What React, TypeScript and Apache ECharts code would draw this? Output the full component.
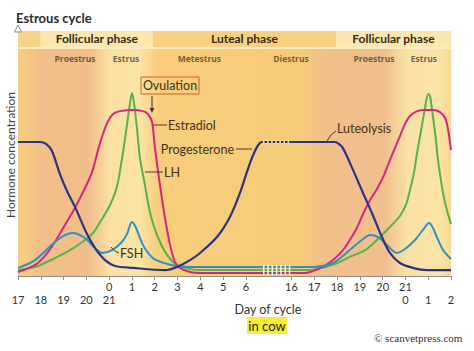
import React, { useEffect, useRef } from "react";
import * as echarts from "echarts";

// x = position along the drawn day axis (days 7..15 compressed into a 2-unit break)
const tickPositions = [0, 1, 2, 3, 4, 5, 6, 7, 8, 9, 10, 12, 13, 14, 15, 16, 17, 18, 19];
const tickTopRow = ["", "", "", "", "0", "1", "2", "3", "4", "5", "6", "16", "17", "18", "19", "20", "21", "", ""];
const tickBottomRow = ["17", "18", "19", "20", "21", "", "", "", "", "", "", "", "", "", "", "", "0", "1", "2"];

const phaseNames = ["Follicular phase", "Luteal phase", "Follicular phase"];
const phaseStarts = [1, 5.92, 13.95];
const phaseEnds = [5.92, 13.95, 19];

const stageNames = ["Proestrus", "Estrus", "Metestrus", "Diestrus", "Proestrus", "Estrus"];
const stageCenters = [2.5, 4.74, 7.96, 11.98, 15.62, 17.81];

const progesterone = [
  [0, 54.7], [0.97, 54.7], [1.23, 53.9], [1.49, 51.0], [1.84, 41.6], [2.15, 34.7], [2.5, 28.2],
  [3.03, 17.1], [3.38, 11.4], [3.82, 6.5], [4.26, 4.1], [5.05, 3.3], [6.45, 2.4], [6.98, 3.7],
  [7.55, 6.5], [7.99, 9.4], [8.73, 15.9], [9.3, 24.1], [9.74, 33.9], [10.18, 46.1], [10.49, 52.7],
  [10.71, 54.7], [13.91, 54.7], [14.08, 53.9], [14.26, 52.2], [14.7, 43.3], [15.14, 33.9],
  [15.53, 25.7], [15.97, 15.9], [16.32, 9.4], [16.76, 5.3], [17.33, 3.3], [17.95, 2.4], [19, 2.4],
];

const estradiol = [
  [0, 1.6], [0.75, 4.5], [1.18, 8.2], [1.62, 13.9], [2.06, 20.8], [2.5, 27.8], [2.94, 35.9],
  [3.25, 42.4], [3.6, 54.3], [3.91, 62.4], [4.17, 66.1], [4.48, 67.3], [5.05, 67.8], [5.48, 67.3],
  [5.7, 66.1], [5.88, 62.9], [6.01, 52.2], [6.23, 37.1], [6.45, 23.7], [6.67, 12.7], [6.89, 5.7],
  [7.11, 3.3], [7.55, 1.6], [7.99, 1.2], [12.59, 1.2], [12.94, 2.0], [13.38, 3.7], [13.82, 6.5],
  [14.26, 10.6], [14.56, 14.7], [14.87, 19.6], [15.14, 25.3], [15.45, 31.0], [15.75, 35.5],
  [16.06, 41.2], [16.32, 47.3], [16.54, 52.2], [16.76, 57.1], [16.98, 62.0], [17.2, 65.3],
  [17.51, 67.3], [17.86, 67.8], [18.21, 67.8], [18.52, 66.9], [18.74, 64.5], [18.86, 60.4], [19, 51.4],
];

const lh = [
  [0, 2.4], [0.75, 3.7], [1.62, 7.3], [2.5, 11.8], [3.25, 17.1], [3.6, 22.0], [3.82, 25.3],
  [4.04, 29.0], [4.26, 33.9], [4.39, 38.4], [4.61, 50.6], [4.78, 61.6], [4.91, 70.2], [5.0, 74.7],
  [5.09, 70.6], [5.22, 60.4], [5.35, 48.2], [5.57, 37.1], [5.79, 26.1], [6.1, 16.7], [6.54, 8.6],
  [6.98, 4.5], [7.55, 2.9], [7.99, 2.4], [12.59, 2.4], [13.12, 2.9], [13.91, 4.9], [14.56, 7.8],
  [15.23, 10.6], [15.75, 14.7], [16.32, 20.0], [16.76, 24.5], [17.02, 29.0], [17.2, 35.1],
  [17.38, 42.4], [17.51, 50.2], [17.69, 59.6], [17.86, 68.6], [18.0, 74.3], [18.08, 73.5],
  [18.21, 64.9], [18.34, 55.5], [18.43, 47.3], [18.65, 33.9], [18.82, 26.9], [19, 21.2],
];

const fsh = [
  [0, 3.3], [0.75, 6.5], [1.62, 13.9], [2.06, 16.7], [2.41, 17.6], [2.94, 15.5], [3.38, 11.4],
  [3.69, 9.4], [4.12, 10.6], [4.56, 13.9], [4.78, 17.1], [5.0, 22.0], [5.18, 19.6], [5.48, 12.7],
  [5.92, 7.3], [6.54, 4.9], [6.98, 4.1], [7.55, 3.7], [12.94, 3.7], [13.82, 5.3], [14.56, 10.6],
  [15.09, 14.7], [15.45, 16.7], [15.8, 15.9], [16.1, 13.5], [16.63, 9.4], [16.98, 11.0],
  [17.42, 14.7], [17.77, 18.8], [18.04, 21.6], [18.21, 19.6], [18.38, 15.9], [18.65, 10.6], [19, 6.9],
];

const breakStart = 10.75;
const breakEnd = 12;

const FONT = 'Lato, "Open Sans", sans-serif';
const TEXT = "#3d3220";

function txt(x: number, y: number, text: string, font: string, align = "left", fill = TEXT, extra: any = {}) {
  return {
    type: "text",
    x,
    y,
    z: 20,
    silent: true,
    ...extra,
    style: {
      text,
      font,
      fill,
      align,
      textAlign: align,
      verticalAlign: "middle",
      textVerticalAlign: "middle",
    },
  };
}

function line(x1: number, y1: number, x2: number, y2: number, stroke = "#4a3c24") {
  return { type: "line", z: 20, silent: true, shape: { x1, y1, x2, y2 }, style: { stroke, lineWidth: 1 } };
}

export default function App() {
  const ref = useRef<HTMLDivElement>(null);
  useEffect(() => {
    const chart = echarts.init(ref.current!, null, { renderer: "svg" });

    const bodyGradient = new echarts.graphic.LinearGradient(0, 0, 1, 0, [
      { offset: 0, color: "#f6ce7f" },
      { offset: 0.023, color: "#f5c982" },
      { offset: 0.051, color: "#f2bf89" },
      { offset: 0.162, color: "#f1be8b" },
      { offset: 0.189, color: "#f5cf97" },
      { offset: 0.212, color: "#fae1a3" },
      { offset: 0.282, color: "#fbe4a5" },
      { offset: 0.305, color: "#f9d78e" },
      { offset: 0.328, color: "#f8cd7b" },
      { offset: 0.651, color: "#f7cc79" },
      { offset: 0.693, color: "#f3c387" },
      { offset: 0.72, color: "#f1bf8c" },
      { offset: 0.848, color: "#f1bf8d" },
      { offset: 0.875, color: "#f6d39b" },
      { offset: 0.9, color: "#fae2a6" },
      { offset: 0.975, color: "#fbe4a7" },
      { offset: 1, color: "#f8d892" },
    ]);

    const phaseColors = ["#fce8ad", "#f8d07f", "#fce8ae"];
    const headerAreas = phaseNames.map((name, i) => [
      { name, xAxis: phaseStarts[i], yAxis: 93.5, itemStyle: { color: phaseColors[i] } },
      { xAxis: phaseEnds[i], yAxis: 100 },
    ]);

    const curve = (name: string, data: number[][], color: string, width = 2) => ({
      type: "line",
      name,
      data,
      smooth: 0.3,
      symbol: "none",
      showSymbol: false,
      silent: true,
      z: 3,
      lineStyle: { color, width },
    });

    chart.setOption({
      animation: false,
      grid: { left: 18, right: 23, top: 31, bottom: 75 },
      xAxis: {
        type: "value",
        min: 0,
        max: 19,
        interval: 1,
        splitLine: { show: false },
        axisLine: { show: true, onZero: false, lineStyle: { color: "#8f8f8f", width: 1 } },
        axisTick: { show: true, length: 4, customValues: tickPositions, lineStyle: { color: "#8f8f8f" } },
        axisLabel: {
          customValues: tickPositions,
          margin: 4,
          showMinLabel: true,
          showMaxLabel: true,
          hideOverlap: false,
          formatter: (v: number) => {
            const i = tickPositions.indexOf(Math.round(v));
            if (i < 0) return "";
            const a = tickTopRow[i] || " ";
            const b = tickBottomRow[i] || " ";
            return `{t|${a}}\n{t|${b}}`;
          },
          rich: { t: { fontSize: 11, lineHeight: 13, color: "#333", fontFamily: FONT } },
        },
      },
      yAxis: {
        type: "value",
        min: 0,
        max: 100,
        splitLine: { show: false },
        axisLine: { show: true, lineStyle: { color: "#8f8f8f", width: 1 } },
        axisTick: { show: false },
        axisLabel: { show: false },
      },
      series: [
        {
          type: "line",
          data: [[0, 0], [19, 0]],
          symbol: "none",
          silent: true,
          z: 1,
          lineStyle: { opacity: 0 },
          markArea: {
            silent: true,
            label: {
              show: true,
              position: "inside",
              color: "#33291a",
              fontWeight: "bold",
              fontSize: 12,
              fontFamily: FONT,
            },
            data: [
              [{ xAxis: 0, yAxis: 0, itemStyle: { color: bodyGradient } }, { xAxis: 19, yAxis: 92.7 }],
              [{ xAxis: 0, yAxis: 92.7, itemStyle: { color: "#fcecc4" } }, { xAxis: 19, yAxis: 93.5 }],
              [{ xAxis: 0, yAxis: 93.5, itemStyle: { color: "#f7d48b" } }, { xAxis: phaseStarts[0], yAxis: 100 }],
              ...headerAreas,
            ],
          },
        },
        {
          type: "scatter",
          silent: true,
          z: 4,
          symbolSize: 1,
          itemStyle: { color: "rgba(0,0,0,0)" },
          data: stageNames.map((n, i) => ({ name: n, value: [stageCenters[i], 88.6] })),
          label: {
            show: true,
            position: "inside",
            formatter: "{b}",
            color: "#4f3e27",
            fontSize: 8.5,
            fontWeight: "bold",
            fontFamily: '"Open Sans", sans-serif',
          },
        },
        curve("LH", lh, "#57b14e"),
        curve("Estradiol", estradiol, "#d4267f"),
        curve("FSH", fsh, "#2f90c2"),
        curve("Progesterone", progesterone, "#2b3482", 2.2),
        {
          type: "line",
          data: [[breakStart, 54.7], [breakEnd, 54.7]],
          symbol: "none",
          silent: true,
          z: 6,
          lineStyle: { color: "#f9e4b6", width: 3.2, type: [1.5, 2.6], cap: "butt" },
        },
        {
          type: "line",
          data: [[breakStart, 2.45], [breakEnd, 2.45]],
          symbol: "none",
          silent: true,
          z: 6,
          lineStyle: { color: "rgba(255,255,255,0.9)", width: 10, type: [1.5, 2.8], cap: "butt" },
        },
      ],
      graphic: [
        txt(16, 18, "Estrous cycle", `bold 13px ${FONT}`, "left", "#2b2b2b"),
        txt(10, 155, "Hormone concentration", `12px ${FONT}`, "center", "#444", { rotation: Math.PI / 2 }),
        {
          type: "polygon",
          z: 20,
          silent: true,
          shape: { points: [[14.5, 32], [18, 25], [21.5, 32]] },
          style: { fill: "#ffffff", stroke: "#8f8f8f", lineWidth: 1 },
        },
        {
          type: "rect",
          z: 20,
          silent: true,
          shape: { x: 141, y: 77, width: 58, height: 17 },
          style: { fill: "none", stroke: "#e0592f", lineWidth: 1 },
        },
        txt(170, 85.5, "Ovulation", `12.5px ${FONT}`, "center"),
        line(152, 96, 152, 109, "#333"),
        {
          type: "polygon",
          z: 20,
          silent: true,
          shape: { points: [[149.6, 108], [154.4, 108], [152, 113]] },
          style: { fill: "#333" },
        },
        line(153, 125, 167, 125),
        txt(168, 125, "Estradiol", `12.5px ${FONT}`),
        txt(234, 149, "Progesterone", `12.5px ${FONT}`, "right"),
        line(236, 149, 252, 149),
        line(145, 172, 163, 172),
        txt(164, 172, "LH", `12.5px ${FONT}`),
        {
          type: "polyline",
          z: 20,
          silent: true,
          shape: { points: [[111, 247], [114, 250.5], [119, 253]] },
          style: { stroke: "#4a3c24", lineWidth: 1, fill: "none" },
        },
        txt(120, 253, "FSH", `12.5px ${FONT}`),
        {
          type: "polyline",
          z: 20,
          silent: true,
          shape: { points: [[327, 141], [331, 135], [336, 131]] },
          style: { stroke: "#4a3c24", lineWidth: 1, fill: "none" },
        },
        txt(337, 128, "Luteolysis", `12.5px ${FONT}`),
        txt(268, 309, "Day of cycle", `12.5px ${FONT}`, "center", "#333"),
        {
          type: "rect",
          z: 19,
          silent: true,
          shape: { x: 247, y: 317, width: 40, height: 17 },
          style: { fill: "#f6ee33" },
        },
        txt(267, 325.5, "in cow", `13px ${FONT}`, "center", "#222"),
        txt(374, 338, "© scanvetpress.com", `11px "Liberation Serif", serif`, "left", "#333"),
      ],
    });
    return () => chart.dispose();
  }, []);
  return (
    <div
      ref={ref}
      style={{ position: "fixed", left: 0, top: 0, width: 474, height: 351, background: "#ffffff" }}
    />
  );
}
